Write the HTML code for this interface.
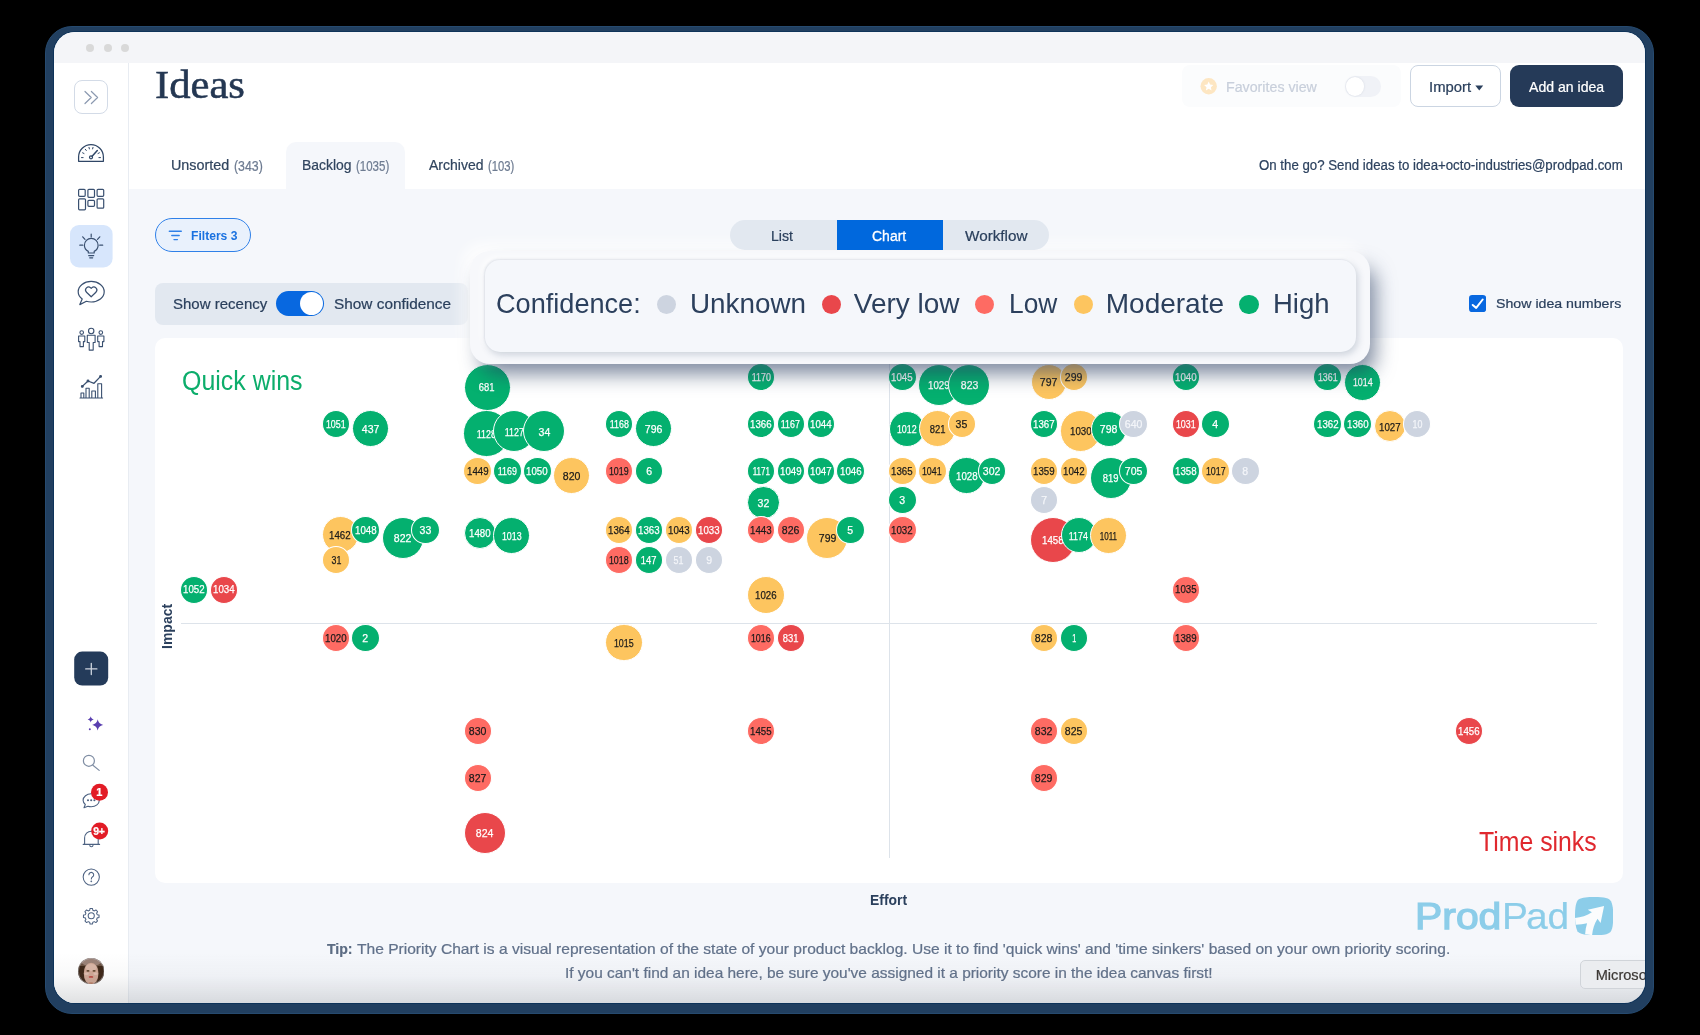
<!DOCTYPE html>
<html><head><meta charset="utf-8"><title>Ideas</title>
<style>
*{box-sizing:border-box;margin:0;padding:0}
html,body{width:1700px;height:1035px;overflow:hidden;background:#000}
body{font-family:"Liberation Sans",sans-serif;color:#2a3f5c;position:relative}
.frame{position:absolute;left:45px;top:25.8px;width:1609px;height:988.2px;background:#213f60;border:1px solid #264a6f;border-radius:27px}
.win{position:absolute;left:54px;top:32px;width:1591px;height:970.8px;overflow:hidden;border-radius:21px;background:#f5f7fb;box-shadow:0 0 0 1px #0e3359}
.pg{position:absolute;left:-54px;top:-32px;width:1700px;height:1035px;will-change:transform}
.a{position:absolute}
.t{position:absolute;white-space:nowrap;line-height:1;transform-origin:0 0;-webkit-text-stroke:.22px}
.titlebar{left:54px;top:32px;width:1591px;height:31px;background:#f4f5f8}
.dot{width:8px;height:8px;border-radius:50%;background:#d9d9d9;top:43.5px}
.side{left:54px;top:63px;width:75px;height:940px;background:#fff;border-right:1px solid #e8ecf2}
.hdr{left:129px;top:63px;width:1516px;height:125.5px;background:#fff}
.b{position:absolute;box-sizing:content-box;border-radius:50%;border:1px solid #fff;color:#fff;display:flex;align-items:center;justify-content:center;white-space:nowrap;overflow:hidden;line-height:1}.b span{display:inline-block;-webkit-text-stroke:.25px;position:relative;top:.5px}
.g{background:#04b06f}.y{background:#fdc55f;color:#1a1a1a}.l{background:#fe6b63;color:#1a1a1a}.v{background:#e9474b}.u{background:#cdd4e0;color:#f3f5f9}
</style></head><body>
<div class="frame"></div>
<div class="win"><div class="pg">
<div class="a titlebar"></div>
<div class="a dot" style="left:86px"></div><div class="a dot" style="left:103.5px"></div><div class="a dot" style="left:121px"></div>
<div class="a side"></div>
<div class="a hdr"></div>
<!-- collapse -->
<div class="a" style="left:74px;top:80px;width:34px;height:34px;border:1px solid #d3dbe7;border-radius:8px;background:#fff"></div>
<svg class="a" style="left:54px;top:63px" width="75" height="940" viewBox="54 63 75 940" fill="none" stroke="#2f4666" stroke-width="1.25" stroke-linecap="round" stroke-linejoin="round">
<path d="M85 91.5l6.2 6-6.2 6M91.4 91.5l6.2 6-6.2 6" stroke="#8b99b0" stroke-width="1.2"/>
<!-- gauge -->
<path d="M78.6 161.3v-4.3a12.4 12.4 0 0 1 24.8 0v4.3z"/>
<circle cx="91" cy="157.3" r="1.5"/>
<path d="M92.1 156.2l5.2-5.6" stroke-width="1.5"/>
<path d="M81.5 157.6h1.6M98.9 157.6h1.6M82.6 152.8l1.4.7M85.3 149.3l1 1.2M89 147.4l.4 1.5M93 147.4l-.4 1.5M99.4 152.8l-1.4.7" stroke-width="1"/>
<!-- grid -->
<g stroke="#3a5070" stroke-width="1.2">
<rect x="78.6" y="189.3" width="6.6" height="7" rx="1"/><rect x="78.6" y="198.8" width="6.9" height="11" rx="1"/>
<rect x="87.9" y="189.3" width="6.6" height="8" rx="1"/><rect x="87.9" y="200.3" width="6.6" height="6" rx="1"/>
<rect x="97.1" y="189.3" width="6.6" height="7" rx="1"/><rect x="97.1" y="198.8" width="6.6" height="9.4" rx="1"/>
</g>
<!-- bulb -->
<rect x="70" y="225" width="42.6" height="42.4" rx="9" fill="#d7e6fc" stroke="none"/>
<g stroke="#3a5070" stroke-width="1.2">
<path d="M88.3 253v-1.6c-2.300-1.200-3.900-3.500-3.900-6.200a6.850 6.850 0 0 1 13.700 0c0 2.700-1.600 5-3.900 6.200v1.600z"/>
<path d="M88.700 255.600h5M89.700 257.800h3"/>
<path d="M91.200 234v3M82.700 236.800l2.300 2.500M99.800 236.800l-2.300 2.500M79.800 245.200h3M99.700 245.200h3"/>
</g>
<!-- heart speech -->
<g stroke="#3a5070" stroke-width="1.2">
<path d="M91.200 281.400c7.200 0 13 4.600 13 10.300s-5.800 10.300-13 10.300c-1.700 0-3.300-.2-4.800-.7l-6.600 3.300 2.400-5.600c-2.500-1.900-4-4.500-4-7.300 0-5.700 5.800-10.300 13-10.300z"/>
<path d="M91.200 296.800l-4.700-4.600a3 3 0 0 1 4.200-4.300l.5.500.5-.5a3 3 0 0 1 4.200 4.300z"/>
</g>
<!-- people -->
<g stroke="#3a5070" stroke-width="1.1">
<circle cx="91.200" cy="331" r="2.700"/><path d="M87.300 335.300h7.800v7.200h-1.900v7.600h-4v-7.600h-1.900z"/>
<circle cx="81.700" cy="332.600" r="1.800"/><path d="M78.600 336h6.200v5.600h-1.400v5h-3.400v-5h-1.400z"/>
<circle cx="100.800" cy="332.600" r="1.800"/><path d="M97.700 336h6.200v5.600h-1.400v5h-3.400v-5h-1.400z"/>
</g>
<!-- chart -->
<g stroke="#3a5070" stroke-width="1.1">
<path d="M80 398h22.600M81 397.600v-4.600h2.800v4.600M86 397.600v-9.400h3.200v9.400M91.800 397.600v-6.600h3.600v6.600M97.800 397.600v-13.800h3.800v13.800"/>
<path d="M82.300 386.400l5.700-5.400 6 2.300 6.600-6.900" stroke-width="1.3"/>
<circle cx="82.300" cy="386.400" r=".9" fill="#3a5070"/><circle cx="88" cy="381" r=".9" fill="#3a5070"/><circle cx="100.600" cy="376.400" r=".9" fill="#3a5070"/>
</g>
<!-- plus -->
<rect x="74.200" y="651.600" width="34" height="34" rx="8" fill="#243b5a" stroke="none"/>
<path d="M85.700 668.900h11.200M91.300 663.300v11.200" stroke="#cdd4de" stroke-width="1.3"/>
<!-- sparkle -->
<g fill="#5a3fb0" stroke="none">
<path d="M97.700 719.300c.9 3.500 2.100 4.700 5.600 5.600-3.500.9-4.700 2.100-5.600 5.600-.9-3.500-2.100-4.700-5.600-5.600 3.500-.9 4.700-2.100 5.600-5.600z"/>
<path d="M90.700 716.300c.5 2 1.100 2.600 3.100 3.100-2 .5-2.600 1.100-3.100 3.100-.5-2-1.100-2.600-3.100-3.100 2-.5 2.600-1.100 3.100-3.100z"/>
<circle cx="89.800" cy="729.300" r="1"/>
</g>
<!-- search -->
<g stroke="#7f8da3" stroke-width="1.2"><circle cx="88.900" cy="760.800" r="5.500"/><path d="M92.900 765.200l6.300 5.200"/></g>
<!-- chat -->
<g stroke="#4d6282" stroke-width="1.1">
<path d="M91.200 793.800c4.500 0 8.100 2.900 8.100 6.500s-3.600 6.500-8.100 6.500c-1.200 0-2.300-.2-3.300-.5l-3.900 1.400 1.300-3.200c-1.400-1.100-2.200-2.600-2.200-4.200 0-3.600 3.600-6.500 8.100-6.500z"/>
<circle cx="88" cy="800.300" r=".5"/><circle cx="91.200" cy="800.300" r=".5"/><circle cx="94.400" cy="800.300" r=".5"/>
</g>
<!-- bell -->
<g stroke="#4d6282" stroke-width="1.1">
<path d="M83.200 844.400h16.400M84.600 844.400v-6.300c0-3.800 3-6.900 6.800-6.900s6.800 3.100 6.800 6.900v6.300"/>
<path d="M89.800 845.200a1.600 1.600 0 0 0 3.200 0"/>
</g>
<!-- help -->
<g stroke="#4d6282" stroke-width="1.05">
<circle cx="91.250" cy="877.100" r="8.100"/>
<path d="M88.900 874.800a2.400 2.400 0 1 1 3.700 2c-.9.600-1.300 1.100-1.300 2.200"/><circle cx="91.300" cy="881.300" r=".35"/>
</g>
<!-- gear -->
<g stroke="#4d6282" stroke-width="1.2" transform="translate(91.25 915.7) scale(.87) translate(-91.25 -915.7)">
<circle cx="91.250" cy="915.700" r="3.500"/>
<path d="M89.900 907.400h2.700l.5 2.100 1.700.7 1.800-1.100 1.900 1.900-1.100 1.800.7 1.700 2.100.5v2.700l-2.100.5-.7 1.700 1.100 1.800-1.900 1.900-1.800-1.100-1.700.7-.5 2.100h-2.700l-.5-2.100-1.700-.7-1.800 1.100-1.900-1.900 1.100-1.800-.7-1.700-2.100-.5v-2.700l2.100-.5.7-1.700-1.100-1.800 1.900-1.900 1.800 1.100 1.700-.7z"/>
</g>
<!-- badges -->
<circle cx="99.500" cy="792.300" r="8.500" fill="#e21c26" stroke="none"/>
<circle cx="99.700" cy="831" r="8.500" fill="#e21c26" stroke="none"/>
</svg>
<div class="t" style="left:96.3px;top:787px;font-size:11px;font-weight:bold;color:#fff">1</div>
<div class="t" style="left:93.3px;top:826px;font-size:10.5px;font-weight:bold;color:#fff;letter-spacing:-.3px">9+</div>
<!-- avatar -->
<svg class="a" style="left:77.9px;top:957.5px" width="26.4" height="26.4" viewBox="0 0 26.4 26.4">
<defs><clipPath id="avc"><circle cx="13.2" cy="13.2" r="13.2"/></clipPath><filter id="avb" x="-20%" y="-20%" width="140%" height="140%"><feGaussianBlur stdDeviation=".55"/></filter></defs>
<g clip-path="url(#avc)"><rect width="26.4" height="26.4" fill="#6b5242"/>
<g filter="url(#avb)">
<ellipse cx="13.2" cy="3.5" rx="10" ry="4.5" fill="#9a8176"/>
<path d="M1 8c-2 6-1 13 3 17l3.500-1c-2-5-2-11-.5-16z" fill="#3d2818"/>
<path d="M25.400 8c2 6 1 13-3 17l-3.500-1c2-5 2-11 .5-16z" fill="#3d2818"/>
<ellipse cx="13.100" cy="15.500" rx="7.300" ry="10.800" fill="#cfa795"/>
<ellipse cx="13.100" cy="9.500" rx="5.500" ry="3.500" fill="#d9b6a6"/>
<ellipse cx="10" cy="12.900" rx="1.600" ry=".8" fill="#5a4128"/><ellipse cx="16.100" cy="12.900" rx="1.600" ry=".8" fill="#5a4128"/>
<ellipse cx="8.600" cy="15.800" rx="2.300" ry="1.200" fill="#ddbcae"/><ellipse cx="17.600" cy="15.800" rx="2.300" ry="1.200" fill="#ddbcae"/>
<ellipse cx="13" cy="18.900" rx="2.400" ry=".9" fill="#b8483f"/>
<ellipse cx="13" cy="25.500" rx="3" ry="1" fill="#b06a4a"/>
</g></g>
<circle cx="13.2" cy="13.2" r="12.900" fill="none" stroke="#c9d3e3" stroke-width=".6" opacity=".7"/>
</svg>
<div class="t" style="left:154.90px;top:66.13px;font-size:39.6px;color:#243752;font-family:'Liberation Serif',serif;transform:scaleX(1.0772);-webkit-text-stroke:.55px #243752;">Ideas</div>
<div class="a" style="left:1182px;top:65px;width:219px;height:42.4px;border-radius:8px;background:#fbfcfd"></div>
<svg class="a" style="left:1200px;top:78px" width="17" height="17" viewBox="0 0 17 17"><circle cx="8.7" cy="8.3" r="8.2" fill="#fde6c2"/><path d="M8.7 3.6l1.4 3 3.2.4-2.4 2.200.6 3.200-2.800-1.600-2.800 1.600.6-3.200-2.400-2.200 3.200-.4z" fill="#fff"/></svg>
<div class="t" style="left:1226.10px;top:79.63px;font-size:14.5px;color:#c8cfdb;transform:scaleX(0.9809);">Favorites view</div>
<div class="a" style="left:1345px;top:76.2px;width:35.600px;height:20.400px;border-radius:10.200px;background:#f0f2f7"></div>
<div class="a" style="left:1345.600px;top:77.200px;width:18.400px;height:18.400px;border-radius:50%;background:#fff;box-shadow:0 0 2px rgba(120,135,160,.25)"></div>
<div class="a" style="left:1410.200px;top:65px;width:91px;height:42.400px;border-radius:8px;background:#fff;border:1px solid #cbd5e2"></div>
<div class="t" style="left:1428.50px;top:79.63px;font-size:14.5px;color:#2a3f5c;transform:scaleX(1.0245);">Import</div>
<svg class="a" style="left:1474.800px;top:85px" width="9" height="6" viewBox="0 0 9 6"><path d="M.3.400h7.900l-3.950 5.100z" fill="#2a3f5c"/></svg>
<div class="a" style="left:1510.200px;top:65px;width:112.400px;height:42.400px;border-radius:9px;background:#253a58"></div>
<div class="t" style="left:1528.80px;top:79.63px;font-size:14.5px;color:#fff;transform:scaleX(0.9703);">Add an idea</div>
<div class="t" style="left:1259.10px;top:157.75px;font-size:14px;color:#2d425f;transform:scaleX(0.9464);">On the go? Send ideas to idea+octo-industries@prodpad.com</div>
<div class="a" style="left:286.250px;top:142px;width:118.800px;height:50px;border-radius:10px 10px 0 0;background:#f5f7fb"></div>
<div class="t" style="left:170.50px;top:158.23px;font-size:14.5px;color:#31455f;transform:scaleX(0.9900);">Unsorted</div>
<div class="t" style="left:233.75px;top:158.65px;font-size:14px;color:#6d7b91;transform:scaleX(0.8796);">(343)</div>
<div class="t" style="left:301.75px;top:158.23px;font-size:14.5px;color:#31455f;transform:scaleX(0.9595);">Backlog</div>
<div class="t" style="left:356.25px;top:158.65px;font-size:14px;color:#6d7b91;transform:scaleX(0.8216);">(1035)</div>
<div class="t" style="left:428.75px;top:158.23px;font-size:14.5px;color:#31455f;transform:scaleX(0.9660);">Archived</div>
<div class="t" style="left:488.00px;top:158.65px;font-size:14px;color:#6d7b91;transform:scaleX(0.8031);">(103)</div>
<div class="a" style="left:155px;top:218.300px;width:95.800px;height:34.200px;border-radius:17.100px;background:#e9f1fc;border:1.500px solid #2f80e8"></div>
<svg class="a" style="left:168px;top:229px" width="15" height="13" viewBox="168 229 15 13" stroke="#2f80e8" stroke-width="1.400" stroke-linecap="round"><path d="M169.300 231.300h12M171.800 235.500h7.400M174 239.600h3.400"/></svg>
<div class="t" style="left:190.75px;top:229.32px;font-size:13.5px;color:#1b72e0;font-weight:bold;transform:scaleX(0.8972);-webkit-text-stroke:0;">Filters 3</div>
<div class="a" style="left:729.5px;top:219.5px;width:319.3px;height:30px;border-radius:15px;background:#e2e8f0;overflow:hidden;z-index:5"><div class="a" style="left:107.5px;top:0;width:105.5px;height:30px;background:#0068dd"></div></div>
<div class="t" style="left:771.25px;top:228.13px;font-size:15.5px;color:#2a3f5c;transform:scaleX(0.9121);z-index:6;">List</div>
<div class="t" style="left:872.00px;top:228.13px;font-size:15.5px;color:#fff;transform:scaleX(0.9036);-webkit-text-stroke:.3px #fff;z-index:6;">Chart</div>
<div class="t" style="left:964.50px;top:228.13px;font-size:15.5px;color:#2a3f5c;transform:scaleX(0.9851);z-index:6;">Workflow</div>
<div class="a" style="left:155px;top:282.5px;width:312.5px;height:42.5px;border-radius:8px;background:#e2e8f0"></div>
<div class="t" style="left:172.50px;top:296.13px;font-size:15.5px;color:#2a3f5c;transform:scaleX(0.9681);">Show recency</div>
<div class="a" style="left:275.5px;top:290.75px;width:48.25px;height:25.5px;border-radius:12.75px;background:#0868e0"></div>
<div class="a" style="left:299.6px;top:291.9px;width:23.2px;height:23.2px;border-radius:50%;background:#fff"></div>
<div class="t" style="left:333.75px;top:296.13px;font-size:15.5px;color:#2a3f5c;transform:scaleX(0.9911);">Show confidence</div>
<svg class="a" style="left:1469.3px;top:295px" width="17.2" height="17.2" viewBox="0 0 17.2 17.2"><rect width="17.2" height="17.2" rx="3.2" fill="#0868e0"/><path d="M3.7 10l3.5 2.900 6.500-8.400" fill="none" stroke="#fff" stroke-width="2" stroke-linecap="round" stroke-linejoin="round"/></svg>
<div class="t" style="left:1495.50px;top:297.19px;font-size:13.6px;color:#2a3f5c;transform:scaleX(1.0424);">Show idea numbers</div>
<div class="a" style="left:155px;top:337.6px;width:1467.7px;height:545.8px;border-radius:10px;background:#fff"></div>
<div class="t" style="left:181.75px;top:367.84px;font-size:27px;color:#0cad6b;transform:scaleX(0.9235);-webkit-text-stroke:0;">Quick wins</div>
<div class="t" style="left:1478.80px;top:828.54px;font-size:27px;color:#e0282e;transform:scaleX(0.9194);-webkit-text-stroke:0;">Time sinks</div>
<div class="a" style="left:181px;top:623px;width:1416px;height:1px;background:#dde3ea"></div>
<div class="a" style="left:889.4px;top:345px;width:1px;height:513px;background:#dde3ea"></div>
<div class="t" style="left:160.4px;top:648.9px;font-size:14px;font-weight:bold;color:#2a3f5c;-webkit-text-stroke:0;transform:rotate(-90deg);transform-origin:0 0">Impact</div>
<div class="t" style="left:870.20px;top:893.35px;font-size:14px;color:#2a3f5c;font-weight:bold;transform:scaleX(0.9913);-webkit-text-stroke:0;">Effort</div>
<div class="b g" style="left:746.8px;top:362.8px;width:26.5px;height:26px;font-size:11.5px"><span style="transform:scaleX(0.771)">1170</span></div><div class="b g" style="left:888.0px;top:362.8px;width:26.5px;height:26px;font-size:11.5px"><span style="transform:scaleX(0.844)">1045</span></div><div class="b g" style="left:918.0px;top:363.5px;width:40px;height:40px;font-size:11.5px"><span style="transform:scaleX(0.844);top:1.2px">1029</span></div><div class="b g" style="left:948.3px;top:363.5px;width:40px;height:40px;font-size:11.5px"><span style="transform:scaleX(0.916);top:1.2px">823</span></div><div class="b y" style="left:1031.0px;top:364.0px;width:34px;height:34px;font-size:11.5px"><span style="transform:scaleX(0.916);top:1.2px">797</span></div><div class="b y" style="left:1059.8px;top:362.8px;width:26.5px;height:26px;font-size:11.5px"><span style="transform:scaleX(0.916)">299</span></div><div class="b g" style="left:1171.7px;top:362.8px;width:26.5px;height:26px;font-size:11.5px"><span style="transform:scaleX(0.844)">1040</span></div><div class="b g" style="left:1313.3px;top:362.8px;width:26.5px;height:26px;font-size:11.5px"><span style="transform:scaleX(0.771)">1361</span></div><div class="b g" style="left:1343.9px;top:363.5px;width:35px;height:35px;font-size:11.5px"><span style="transform:scaleX(0.771);top:1.2px">1014</span></div><div class="b g" style="left:463.5px;top:363.5px;width:45px;height:45px;font-size:11.5px"><span style="transform:scaleX(0.820);top:1.2px">681</span></div><div class="b g" style="left:321.8px;top:409.8px;width:26.5px;height:26px;font-size:11.5px"><span style="transform:scaleX(0.771)">1051</span></div><div class="b g" style="left:352.1px;top:410.1px;width:35px;height:35px;font-size:11.5px"><span style="transform:scaleX(0.916);top:1.2px">437</span></div><div class="b g" style="left:463.4px;top:410.1px;width:44.5px;height:44.5px;font-size:11.5px"><span style="transform:scaleX(0.771);top:1.2px">1128</span></div><div class="b g" style="left:493.2px;top:410.4px;width:40px;height:40px;font-size:11.5px"><span style="transform:scaleX(0.771);top:1.2px">1127</span></div><div class="b g" style="left:523.2px;top:410.4px;width:40px;height:40px;font-size:11.5px"><span style="transform:scaleX(0.916);top:1.2px">34</span></div><div class="b g" style="left:604.8px;top:409.8px;width:26.5px;height:26px;font-size:11.5px"><span style="transform:scaleX(0.771)">1168</span></div><div class="b g" style="left:634.8px;top:410.1px;width:35px;height:35px;font-size:11.5px"><span style="transform:scaleX(0.916);top:1.2px">796</span></div><div class="b g" style="left:746.8px;top:409.8px;width:26.5px;height:26px;font-size:11.5px"><span style="transform:scaleX(0.844)">1366</span></div><div class="b g" style="left:776.5px;top:409.8px;width:26.5px;height:26px;font-size:11.5px"><span style="transform:scaleX(0.771)">1167</span></div><div class="b g" style="left:806.5px;top:409.8px;width:26.5px;height:26px;font-size:11.5px"><span style="transform:scaleX(0.844)">1044</span></div><div class="b g" style="left:888.5px;top:410.6px;width:34px;height:34px;font-size:11.5px"><span style="transform:scaleX(0.771);top:1.2px">1012</span></div><div class="b y" style="left:918.7px;top:410.1px;width:35px;height:35px;font-size:11.5px"><span style="transform:scaleX(0.820);top:1.2px">821</span></div><div class="b y" style="left:947.6px;top:409.8px;width:26.5px;height:26px;font-size:11.5px"><span style="transform:scaleX(0.916)">35</span></div><div class="b g" style="left:1029.8px;top:409.8px;width:26.5px;height:26px;font-size:11.5px"><span style="transform:scaleX(0.844)">1367</span></div><div class="b y" style="left:1059.7px;top:410.2px;width:39.6px;height:39.6px;font-size:11.5px"><span style="transform:scaleX(0.844);top:1.2px">1030</span></div><div class="b g" style="left:1090.8px;top:410.6px;width:34px;height:34px;font-size:11.5px"><span style="transform:scaleX(0.916);top:1.2px">798</span></div><div class="b u" style="left:1119.2px;top:409.8px;width:26.5px;height:26px;font-size:11.5px"><span style="transform:scaleX(0.916)">640</span></div><div class="b v" style="left:1171.7px;top:409.8px;width:26.5px;height:26px;font-size:11.5px"><span style="transform:scaleX(0.771)">1031</span></div><div class="b g" style="left:1201.3px;top:409.8px;width:26.5px;height:26px;font-size:11.5px"><span style="transform:scaleX(0.916)">4</span></div><div class="b g" style="left:1313.3px;top:409.8px;width:26.5px;height:26px;font-size:11.5px"><span style="transform:scaleX(0.844)">1362</span></div><div class="b g" style="left:1343.2px;top:409.8px;width:26.5px;height:26px;font-size:11.5px"><span style="transform:scaleX(0.844)">1360</span></div><div class="b y" style="left:1373.7px;top:410.3px;width:30px;height:30px;font-size:11.5px"><span style="transform:scaleX(0.844);top:1.2px">1027</span></div><div class="b u" style="left:1402.8px;top:409.8px;width:26.5px;height:26px;font-size:11.5px"><span style="transform:scaleX(0.771)">10</span></div><div class="b y" style="left:463.2px;top:456.8px;width:26.5px;height:26px;font-size:11.5px"><span style="transform:scaleX(0.844)">1449</span></div><div class="b g" style="left:493.2px;top:456.8px;width:26.5px;height:26px;font-size:11.5px"><span style="transform:scaleX(0.771)">1169</span></div><div class="b g" style="left:523.0px;top:456.8px;width:26.5px;height:26px;font-size:11.5px"><span style="transform:scaleX(0.844)">1050</span></div><div class="b y" style="left:552.9px;top:457.0px;width:35px;height:35px;font-size:11.5px"><span style="transform:scaleX(0.916);top:1.2px">820</span></div><div class="b l" style="left:604.8px;top:456.8px;width:26.5px;height:26px;font-size:11.5px"><span style="transform:scaleX(0.771)">1019</span></div><div class="b g" style="left:634.8px;top:456.8px;width:26.5px;height:26px;font-size:11.5px"><span style="transform:scaleX(0.916)">6</span></div><div class="b g" style="left:746.8px;top:456.8px;width:26.5px;height:26px;font-size:11.5px"><span style="transform:scaleX(0.698)">1171</span></div><div class="b g" style="left:776.5px;top:456.8px;width:26.5px;height:26px;font-size:11.5px"><span style="transform:scaleX(0.844)">1049</span></div><div class="b g" style="left:806.5px;top:456.8px;width:26.5px;height:26px;font-size:11.5px"><span style="transform:scaleX(0.844)">1047</span></div><div class="b g" style="left:836.1px;top:456.8px;width:26.5px;height:26px;font-size:11.5px"><span style="transform:scaleX(0.844)">1046</span></div><div class="b y" style="left:888.0px;top:456.8px;width:26.5px;height:26px;font-size:11.5px"><span style="transform:scaleX(0.844)">1365</span></div><div class="b y" style="left:918.0px;top:456.8px;width:26.5px;height:26px;font-size:11.5px"><span style="transform:scaleX(0.771)">1041</span></div><div class="b g" style="left:948.2px;top:457.2px;width:34.5px;height:34.5px;font-size:11.5px"><span style="transform:scaleX(0.844);top:1.2px">1028</span></div><div class="b g" style="left:977.6px;top:456.8px;width:26.5px;height:26px;font-size:11.5px"><span style="transform:scaleX(0.916)">302</span></div><div class="b y" style="left:1029.8px;top:456.8px;width:26.5px;height:26px;font-size:11.5px"><span style="transform:scaleX(0.844)">1359</span></div><div class="b y" style="left:1059.8px;top:456.8px;width:26.5px;height:26px;font-size:11.5px"><span style="transform:scaleX(0.844)">1042</span></div><div class="b g" style="left:1089.9px;top:457.1px;width:39.8px;height:39.8px;font-size:11.5px"><span style="transform:scaleX(0.820);top:1.2px">819</span></div><div class="b g" style="left:1119.2px;top:456.8px;width:26.5px;height:26px;font-size:11.5px"><span style="transform:scaleX(0.916)">705</span></div><div class="b g" style="left:1171.7px;top:456.8px;width:26.5px;height:26px;font-size:11.5px"><span style="transform:scaleX(0.844)">1358</span></div><div class="b y" style="left:1201.3px;top:456.8px;width:26.5px;height:26px;font-size:11.5px"><span style="transform:scaleX(0.771)">1017</span></div><div class="b u" style="left:1231.3px;top:456.8px;width:26.5px;height:26px;font-size:11.5px"><span style="transform:scaleX(0.916)">8</span></div><div class="b g" style="left:747.0px;top:486.2px;width:30.5px;height:30.5px;font-size:11.5px"><span style="transform:scaleX(0.916);top:1.2px">32</span></div><div class="b g" style="left:888.0px;top:486.4px;width:26.5px;height:26px;font-size:11.5px"><span style="transform:scaleX(0.916)">3</span></div><div class="b u" style="left:1029.8px;top:486.4px;width:26.5px;height:26px;font-size:11.5px"><span style="transform:scaleX(0.916)">7</span></div><div class="b y" style="left:321.7px;top:516.3px;width:35px;height:35px;font-size:11.5px"><span style="transform:scaleX(0.844);top:1.2px">1462</span></div><div class="b g" style="left:351.4px;top:516.4px;width:26.5px;height:26px;font-size:11.5px"><span style="transform:scaleX(0.844)">1048</span></div><div class="b g" style="left:381.7px;top:516.6px;width:40px;height:40px;font-size:11.5px"><span style="transform:scaleX(0.916);top:1.2px">822</span></div><div class="b g" style="left:411.1px;top:516.4px;width:26.5px;height:26px;font-size:11.5px"><span style="transform:scaleX(0.916)">33</span></div><div class="b g" style="left:463.7px;top:516.7px;width:30.4px;height:30.4px;font-size:11.5px"><span style="transform:scaleX(0.844);top:1.2px">1480</span></div><div class="b g" style="left:493.3px;top:516.7px;width:35px;height:35px;font-size:11.5px"><span style="transform:scaleX(0.771);top:1.2px">1013</span></div><div class="b y" style="left:604.8px;top:516.4px;width:26.5px;height:26px;font-size:11.5px"><span style="transform:scaleX(0.844)">1364</span></div><div class="b g" style="left:634.8px;top:516.4px;width:26.5px;height:26px;font-size:11.5px"><span style="transform:scaleX(0.844)">1363</span></div><div class="b y" style="left:664.5px;top:516.4px;width:26.5px;height:26px;font-size:11.5px"><span style="transform:scaleX(0.844)">1043</span></div><div class="b v" style="left:694.5px;top:516.4px;width:26.5px;height:26px;font-size:11.5px"><span style="transform:scaleX(0.844)">1033</span></div><div class="b l" style="left:746.8px;top:516.4px;width:26.5px;height:26px;font-size:11.5px"><span style="transform:scaleX(0.844)">1443</span></div><div class="b l" style="left:776.5px;top:516.4px;width:26.5px;height:26px;font-size:11.5px"><span style="transform:scaleX(0.916)">826</span></div><div class="b y" style="left:806.4px;top:516.6px;width:40px;height:40px;font-size:11.5px"><span style="transform:scaleX(0.916);top:1.2px">799</span></div><div class="b g" style="left:836.1px;top:516.4px;width:26.5px;height:26px;font-size:11.5px"><span style="transform:scaleX(0.916)">5</span></div><div class="b l" style="left:888.0px;top:516.4px;width:26.5px;height:26px;font-size:11.5px"><span style="transform:scaleX(0.844)">1032</span></div><div class="b v" style="left:1030.0px;top:516.9px;width:44px;height:44px;font-size:11.5px"><span style="transform:scaleX(0.844);top:1.2px">1458</span></div><div class="b g" style="left:1060.6px;top:517.2px;width:34px;height:34px;font-size:11.5px"><span style="transform:scaleX(0.771);top:1.2px">1174</span></div><div class="b y" style="left:1090.3px;top:516.7px;width:35px;height:35px;font-size:11.5px"><span style="transform:scaleX(0.698);top:1.2px">1011</span></div><div class="b l" style="left:604.8px;top:546.0px;width:26.5px;height:26px;font-size:11.5px"><span style="transform:scaleX(0.771)">1018</span></div><div class="b g" style="left:634.8px;top:546.0px;width:26.5px;height:26px;font-size:11.5px"><span style="transform:scaleX(0.820)">147</span></div><div class="b u" style="left:664.5px;top:546.0px;width:26.5px;height:26px;font-size:11.5px"><span style="transform:scaleX(0.771)">51</span></div><div class="b u" style="left:694.5px;top:546.0px;width:26.5px;height:26px;font-size:11.5px"><span style="transform:scaleX(0.916)">9</span></div><div class="b y" style="left:321.8px;top:546.0px;width:26.5px;height:26px;font-size:11.5px"><span style="transform:scaleX(0.771)">31</span></div><div class="b g" style="left:179.8px;top:575.7px;width:26.5px;height:26px;font-size:11.5px"><span style="transform:scaleX(0.844)">1052</span></div><div class="b v" style="left:209.8px;top:575.7px;width:26.5px;height:26px;font-size:11.5px"><span style="transform:scaleX(0.844)">1034</span></div><div class="b y" style="left:747.0px;top:575.5px;width:36px;height:36px;font-size:11.5px"><span style="transform:scaleX(0.844);top:1.2px">1026</span></div><div class="b l" style="left:1171.7px;top:575.7px;width:26.5px;height:26px;font-size:11.5px"><span style="transform:scaleX(0.844)">1035</span></div><div class="b l" style="left:321.8px;top:624.3px;width:26.5px;height:26px;font-size:11.5px"><span style="transform:scaleX(0.844)">1020</span></div><div class="b g" style="left:351.4px;top:624.3px;width:26.5px;height:26px;font-size:11.5px"><span style="transform:scaleX(0.916)">2</span></div><div class="b y" style="left:605.2px;top:623.8px;width:35.6px;height:35.6px;font-size:11.5px"><span style="transform:scaleX(0.771);top:1.2px">1015</span></div><div class="b l" style="left:746.8px;top:624.3px;width:26.5px;height:26px;font-size:11.5px"><span style="transform:scaleX(0.771)">1016</span></div><div class="b v" style="left:776.5px;top:624.3px;width:26.5px;height:26px;font-size:11.5px"><span style="transform:scaleX(0.820)">831</span></div><div class="b y" style="left:1029.8px;top:624.3px;width:26.5px;height:26px;font-size:11.5px"><span style="transform:scaleX(0.916)">828</span></div><div class="b g" style="left:1059.8px;top:624.3px;width:26.5px;height:26px;font-size:11.5px"><span style="transform:scaleX(0.626)">1</span></div><div class="b l" style="left:1171.7px;top:624.3px;width:26.5px;height:26px;font-size:11.5px"><span style="transform:scaleX(0.844)">1389</span></div><div class="b l" style="left:463.6px;top:717.1px;width:26.5px;height:26px;font-size:11.5px"><span style="transform:scaleX(0.916)">830</span></div><div class="b l" style="left:746.8px;top:717.1px;width:26.5px;height:26px;font-size:11.5px"><span style="transform:scaleX(0.844)">1455</span></div><div class="b l" style="left:1029.8px;top:717.1px;width:26.5px;height:26px;font-size:11.5px"><span style="transform:scaleX(0.916)">832</span></div><div class="b y" style="left:1059.8px;top:717.1px;width:26.5px;height:26px;font-size:11.5px"><span style="transform:scaleX(0.916)">825</span></div><div class="b v" style="left:1454.8px;top:717.1px;width:26.5px;height:26px;font-size:11.5px"><span style="transform:scaleX(0.844)">1456</span></div><div class="b l" style="left:463.6px;top:764.0px;width:26.5px;height:26px;font-size:11.5px"><span style="transform:scaleX(0.916)">827</span></div><div class="b l" style="left:1029.8px;top:764.0px;width:26.5px;height:26px;font-size:11.5px"><span style="transform:scaleX(0.916)">829</span></div><div class="b v" style="left:463.7px;top:811.5px;width:40.2px;height:40.2px;font-size:11.5px"><span style="transform:scaleX(0.916);top:1.2px">824</span></div>
<div class="a" style="left:470px;top:250.5px;width:899.5px;height:113px;border-radius:20px;background:#f7f8fb;box-shadow:8px 13px 20px -3px rgba(40,60,95,.6),-7px -7px 14px rgba(255,255,255,.9)"></div>
<div class="a" style="left:485px;top:260.3px;width:871.2px;height:91.4px;border-radius:15px;background:#f5f7fb;box-shadow:2px 3px 7px rgba(60,80,115,.22),-1px -1px 2px rgba(60,80,115,.10),-3px -3px 7px rgba(255,255,255,.9)"></div>
<div class="t" style="left:495.75px;top:290.10px;font-size:28px;color:#2c405d;transform:scaleX(0.9686);-webkit-text-stroke:0;">Confidence:</div>
<div class="t" style="left:689.50px;top:290.10px;font-size:28px;color:#2c405d;transform:scaleX(0.9937);-webkit-text-stroke:0;">Unknown</div>
<div class="t" style="left:853.75px;top:290.10px;font-size:28px;color:#2c405d;-webkit-text-stroke:0;">Very low</div>
<div class="t" style="left:1008.75px;top:290.10px;font-size:28px;color:#2c405d;transform:scaleX(0.9393);-webkit-text-stroke:0;">Low</div>
<div class="t" style="left:1105.75px;top:290.10px;font-size:28px;color:#2c405d;-webkit-text-stroke:0;">Moderate</div>
<div class="t" style="left:1273.00px;top:290.10px;font-size:28px;color:#2c405d;transform:scaleX(0.9811);-webkit-text-stroke:0;">High</div>
<div class="a" style="left:656.60px;top:294.80px;width:19.2px;height:19.2px;border-radius:50%;background:#cdd4e0"></div>
<div class="a" style="left:822.15px;top:294.80px;width:19.2px;height:19.2px;border-radius:50%;background:#e9474b"></div>
<div class="a" style="left:974.65px;top:294.80px;width:19.2px;height:19.2px;border-radius:50%;background:#fe6b63"></div>
<div class="a" style="left:1073.65px;top:294.80px;width:19.2px;height:19.2px;border-radius:50%;background:#fdc55f"></div>
<div class="a" style="left:1239.40px;top:294.80px;width:19.2px;height:19.2px;border-radius:50%;background:#04b06f"></div>
<div class="t" style="left:327.00px;top:940.55px;font-size:15px;color:#5c6c83;font-weight:bold;transform:scaleX(0.9369);">Tip:</div>
<div class="t" style="left:357.00px;top:940.55px;font-size:15px;color:#61718a;transform:scaleX(1.0384);">The Priority Chart is a visual representation of the state of your product backlog. Use it to find 'quick wins' and 'time sinkers' based on your own priority scoring.</div>
<div class="t" style="left:565.00px;top:965.30px;font-size:15px;color:#61718a;transform:scaleX(1.0289);">If you can't find an idea here, be sure you've assigned it a priority score in the idea canvas first!</div>
<div class="t" style="left:1415.2px;top:898.80px;font-size:36.5px;color:#8ccde9;-webkit-text-stroke:1.25px #8ccde9;transform:scaleX(1.12)">Prod</div>
<div class="t" style="left:1501.9px;top:898.80px;font-size:36.5px;color:#8ccde9;transform:scaleX(1.066)">P</div>
<div class="t" style="left:1525.9px;top:898.80px;font-size:36.5px;color:#8ccde9;transform:scaleX(1.065)">ad</div>
<svg class="a" style="left:1574.9px;top:897px" width="38.2" height="38.2" viewBox="0 0 38.2 38.2"><path d="M19.1 0C30 0 34.2 1.300 36 4.300 38.200 9 38.200 15 38.200 19.100c0 9-.7 13-2.700 15.800C32 38.200 25 38.200 19.100 38.200c-9 0-14-.7-16.600-3.600C.3 30 0 24 0 19.100 0 10 1 5 3.500 2.500 7 .3 13 0 19.100 0z" fill="#8ccde9"/><path d="M29.100 8.900L12.800 12.800l4.100 2.400C12 18.500 6 20.500 0 20.900l.7 6.900c4-.2 8-.7 11.400-1.500-1.100 3.500-1.700 7.200-2 10.900l7 1c.5-6 2.300-11.600 5.400-16.500l3.100 4.400z" fill="#fbfcfd"/></svg>
<div class="a" style="left:54px;top:953px;width:1591px;height:50px;background:linear-gradient(to bottom,rgba(100,105,112,0),rgba(100,105,112,.04) 45%,rgba(100,105,112,.2))"></div>
<div class="a" style="left:1580.1px;top:960.2px;width:80px;height:29.3px;border-radius:5px;background:#ebedf0;border:1px solid #d0d4d9"></div>
<div class="t" style="left:1595.70px;top:967.84px;font-size:14.6px;color:#3d3936;">Microsoft</div>
</div></div>
</body></html>
